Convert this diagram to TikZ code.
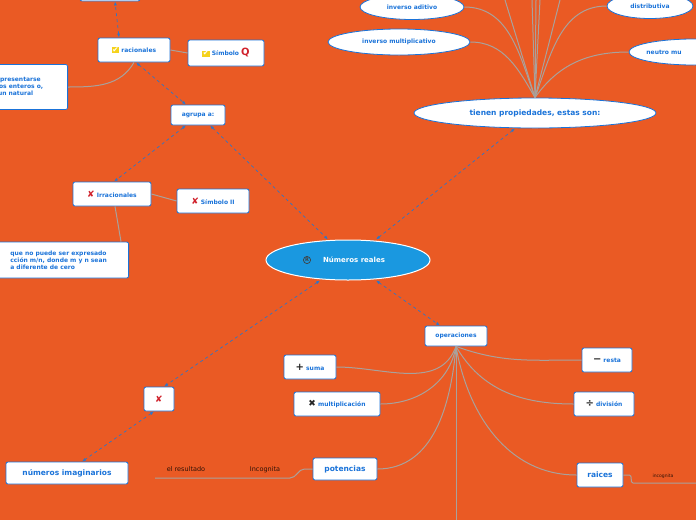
\documentclass[tikz,border=0pt]{standalone}
\usepackage{fontspec}
\setmainfont{DejaVu Sans}
\usetikzlibrary{arrows.meta,shapes.geometric}
\definecolor{bg}{HTML}{EA5A24}
\definecolor{nb}{HTML}{1A73D9}
\definecolor{rb}{HTML}{1A98E0}
\definecolor{gl}{HTML}{A9A19C}
\definecolor{xr}{HTML}{D0212B}
\definecolor{ck}{HTML}{F5D21C}
\tikzset{
 box/.style={draw=nb,line width=0.8pt,fill=white,rounded corners=2pt,font=\bfseries\fontsize{6}{7}\selectfont,text=nb,inner sep=0pt,minimum height=#1},
 box/.default=24pt,
 ell/.style={draw=nb,line width=0.8pt,fill=white,ellipse,font=\bfseries\fontsize{6}{7}\selectfont,text=nb,inner sep=0pt},
 dl/.style={draw=nb!80!gray,dashed,line width=0.7pt,{Latex[length=4pt,width=3pt]}-{Latex[length=4pt,width=3pt]}},
 gl/.style={draw=gl,line width=1pt},
}
\newcommand{\chk}{{\setlength{\fboxsep}{0.6pt}\colorbox{ck}{\textcolor{white}{\mdseries\fontsize{7.5}{7.5}\selectfont ✔}}}}
\newcommand{\xx}{\textcolor{xr}{\mdseries\fontsize{9}{9}\selectfont ✘}}
\begin{document}
\begin{tikzpicture}[x=1pt,y=-1pt]
\fill[bg] (0,0) rectangle (696,520);
\useasboundingbox (0,0) rectangle (696,520);
% nodes
\node[box,minimum width=60pt,minimum height=20pt] (top) at (110,-9) {};
\node[box,minimum width=72pt] (rac) at (134,50) {\chk\ racionales};
\node[box,minimum width=76pt,minimum height=26pt] (sq) at (226,53) {\chk\ Símbolo \textcolor{xr}{\fontsize{10}{10}\selectfont Q}};
\node[box,minimum width=90pt,minimum height=45pt,align=left,anchor=east] (lb) at (68,87) {\hspace*{8pt}presentarse\\eros enteros o,\\ y un natural\hspace*{20pt}};
\node[box,minimum width=54pt,minimum height=20pt] (agr) at (198,115) {agrupa a:};
\node[box,minimum width=78pt] (irr) at (112,194) {\xx\ Irracionales};
\node[box,minimum width=72pt] (s2) at (213,201) {\xx\ Símbolo II};
\node[box,minimum width=140pt,minimum height=36pt,align=left,anchor=east] (db) at (129,260) {que no puede ser expresado\\cción m/n, donde m y n sean\\a diferente de cero\hspace*{20pt}};
\node[ellipse,draw=white,line width=1pt,fill=rb,text=white,minimum width=164pt,minimum height=40pt,inner sep=0pt,font=\bfseries\fontsize{7}{8}\selectfont] (real) at (348,260) {\hspace*{12pt}Números reales};
\draw[black!75,line width=0.7pt] (307,260) circle (3.6);
\node[inner sep=0pt,text=black!75,font=\bfseries\fontsize{5}{5}\selectfont] (rr0) at (307,260) {R};
\node[ell,minimum width=242pt,minimum height=30pt,font=\bfseries\fontsize{7.5}{9}\selectfont] (tp) at (535,113) {tienen propiedades, estas son:};
\node[ell,minimum width=104pt,minimum height=25pt] (ia) at (412,7) {inverso aditivo};
\node[ell,minimum width=142pt,minimum height=26pt] (im) at (399,42) {inverso multiplicativo};
\node[ell,minimum width=86pt,minimum height=25pt] (dis) at (650,6) {distributiva};
\node[ell,minimum width=130pt,minimum height=26pt] (nm) at (694,52) {\hspace*{-60pt}neutro mu};
\coordinate (t1) at (505,0); \coordinate (t2) at (532,0); \coordinate (t3) at (536,0); \coordinate (t4) at (540,0); \coordinate (t5) at (560,0);
\node[box,minimum width=62pt,minimum height=20pt] (op) at (456,336) {operaciones};
\node[box,minimum width=52pt] (su) at (310,367) {\textcolor{black!85}{\fontsize{10}{10}\selectfont +} suma};
\node[box,minimum width=86pt] (mu) at (337,404) {\textcolor{black!85}{\fontsize{9}{9}\selectfont ✖} multiplicación};
\node[box,minimum width=50pt] (re) at (607,360) {\textcolor{black!85}{\fontsize{10}{10}\selectfont −} resta};
\node[box,minimum width=60pt] (dv) at (604,404) {\textcolor{black!85}{\fontsize{10}{10}\selectfont ÷} división};
\node[box,minimum width=64pt,minimum height=22pt,font=\bfseries\fontsize{7.5}{9}\selectfont] (po) at (345,469) {potencias};
\node[box,minimum width=46pt,font=\bfseries\fontsize{7.5}{9}\selectfont] (ra) at (600,475) {raices};
\node[box,minimum width=30pt] (xb) at (159,399) {\xx};
\node[box,minimum width=122pt,minimum height=22pt,font=\bfseries\fontsize{7.5}{9}\selectfont] (ni) at (67,473) {números imaginarios};
\coordinate (vb) at (456,520);
\coordinate (pl) at (155,478); \coordinate (rr) at (696,483);
\node[font=\fontsize{6.5}{7}\selectfont,text=black!80!bg] (er) at (186,469) {el resultado};
\node[font=\fontsize{6.5}{7}\selectfont,text=black!80!bg] (inc) at (265,470) {Incognita};
\node[font=\fontsize{4.5}{5}\selectfont,text=black!80!bg] (inc2) at (663,476) {incognita};
% gray links
\draw[gl] (rac.east) -- (sq.west);
\draw[gl] (rac.south) to[out=-120,in=0] (lb.east);
\draw[gl] (irr.south) ++(3,0) -- ([xshift=-8pt]db.north east);
\draw[gl] (irr.east) -- (s2.west);
\draw[gl] (tp.north) to[out=110,in=0] (ia.east);
\draw[gl] (tp.north) to[out=120,in=0] (im.east);
\draw[gl] (tp.north) to[out=70,in=180] (dis.west);
\draw[gl] (tp.north) to[out=55,in=180] (nm.west);
\foreach \t in {t1,t2,t3,t4,t5} \draw[gl] (tp.north) -- (\t);
\draw[gl] (op.south) to[out=-110,in=0] (su.east);
\draw[gl] (op.south) to[out=-100,in=0] (mu.east);
\draw[gl] (op.south) to[out=-20,in=180] (re.west);
\draw[gl] (op.south) to[out=-60,in=180] (dv.west);
\draw[gl] (op.south) to[out=-95,in=0] (po.east);
\draw[gl] (op.south) to[out=-80,in=180] (ra.west);
\draw[gl] (op.south) -- (vb);
\draw[gl] (po.west) -- ++(-8,0) to[out=180,in=0] (290,478) -- (pl);
\draw[gl] (ra.east) -- ++(6,0) to[out=0,in=180] (633,483) -- (rr);
% dashed links
\draw[dl] (rac.north) ++(-15,0) -- ([xshift=5pt]top.south);
\draw[dl] ([xshift=2pt]rac.south) -- ([xshift=-12pt]agr.north);
\draw[dl] ([xshift=-12pt]agr.south) -- ([xshift=2pt]irr.north);
\draw[dl] ([xshift=12pt]agr.south) -- ([xshift=-20pt]real.north);
\draw[dl] ([xshift=28pt]real.north) -- ([xshift=-20pt]tp.south);
\draw[dl] ([xshift=28pt]real.south) -- ([xshift=-16pt]op.north);
\draw[dl] ([xshift=-28pt]real.south) -- ([xshift=5pt]xb.north);
\draw[dl] ([xshift=-5pt]xb.south) -- ([xshift=15pt]ni.north);
\end{tikzpicture}
\end{document}
